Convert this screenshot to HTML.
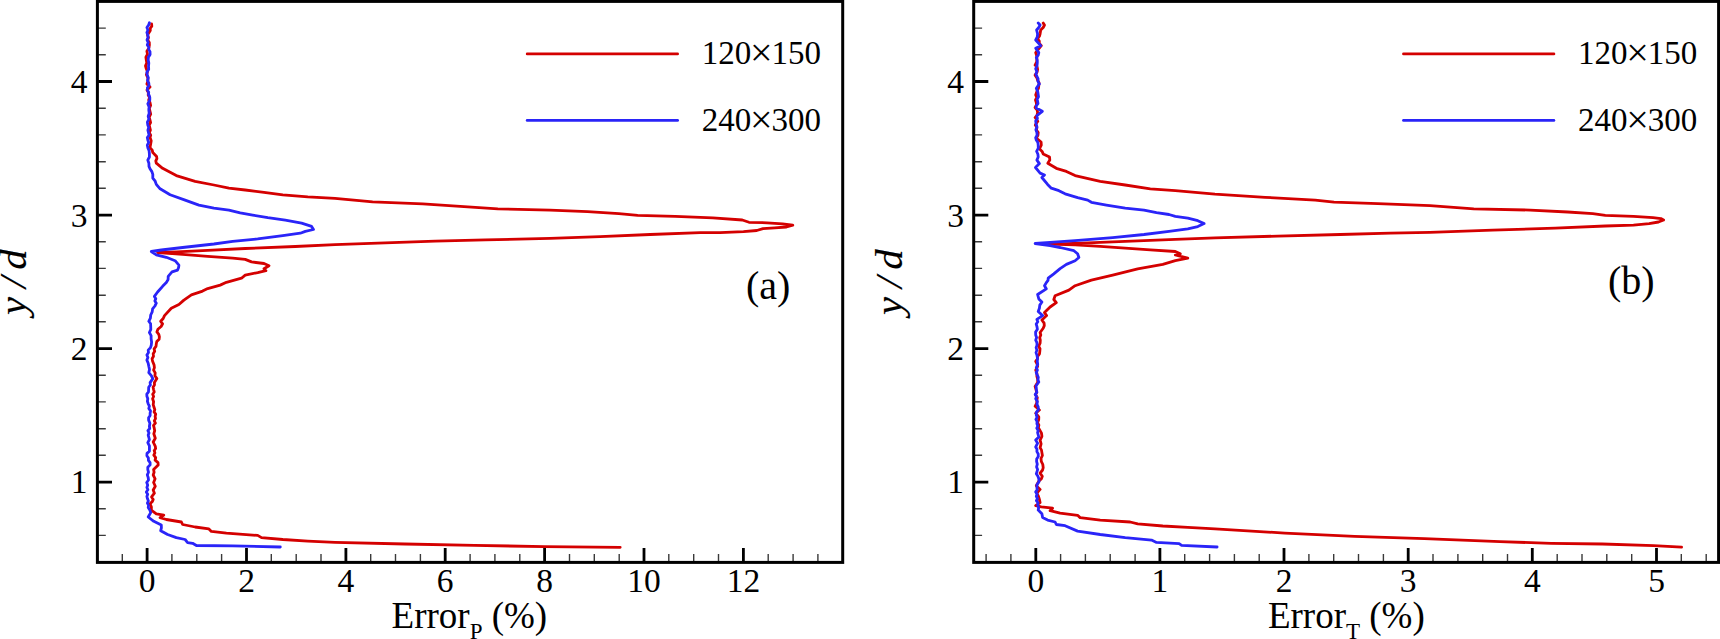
<!DOCTYPE html>
<html><head><meta charset="utf-8"><title>Error profiles</title>
<style>
html,body{margin:0;padding:0;background:#fff;}
body{width:1720px;height:639px;overflow:hidden;}
svg{display:block;}
text{font-family:"Liberation Serif","Times New Roman",serif;fill:#000;}
.tk{font-size:33.5px;}
.ax{font-size:37px;}
.lg{font-size:33px;}
.pl{font-size:40px;}
</style></head><body>
<svg width="1720" height="639" viewBox="0 0 1720 639">
<rect x="0" y="0" width="1720" height="639" fill="#ffffff"/>

<g id="panel-a">
<polyline points="151.6,24.0 151.8,26.2 150.2,28.4 150.3,30.6 147.5,35.0 148.5,37.5 147.7,40.0 149.3,42.5 149.4,45.0 148.8,48.1 146.9,51.3 147.5,54.2 145.9,57.1 146.3,60.0 146.8,62.9 145.5,65.9 146.3,68.8 147.5,71.7 146.4,74.7 147.8,77.6 148.0,80.8 146.9,83.9 150.0,87.0 147.0,90.0 148.4,92.5 148.2,95.0 149.6,97.5 148.7,100.0 150.0,102.5 150.6,105.4 149.3,108.4 150.0,111.3 150.7,114.2 149.2,117.1 150.0,120.0 150.6,122.5 149.2,125.1 149.8,127.6 150.4,130.1 149.3,132.6 150.7,135.1 150.0,137.6 151.2,140.7 150.7,143.8 150.0,147.6 152.2,150.1 152.8,152.6 156.6,156.4 156.9,158.7 155.8,160.9 156.3,163.2 162.6,168.3 176.3,175.6 195.1,181.3 213.9,185.0 228.9,188.2 245.2,190.0 264.0,192.3 282.8,194.8 307.8,196.9 335.0,198.4 372.6,201.9 422.7,203.8 460.2,206.3 497.8,208.8 550.0,210.2 587.6,211.6 618.9,213.6 637.7,215.3 675.2,216.3 712.8,217.8 742.3,220.0 749.0,222.3 767.0,222.8 782.6,223.9 792.8,225.2 786.5,227.0 774.8,227.8 763.0,228.6 756.8,230.5 743.5,231.7 720.0,232.7 700.3,232.6 650.2,234.5 600.1,236.6 550.0,238.3 485.3,239.9 435.2,241.1 385.1,242.9 335.0,244.7 295.3,246.5 245.2,248.5 207.7,250.3 176.3,251.9 157.6,252.5 182.6,254.4 207.7,256.3 232.7,258.2 245.2,259.4 251.5,261.9 264.0,263.5 269.0,265.7 264.0,268.8 265.9,270.7 257.7,272.6 245.2,275.1 241.5,278.2 226.4,282.3 220.2,285.1 207.7,288.6 202.6,291.1 191.4,294.9 183.9,300.1 178.9,304.5 171.3,308.3 164.5,315.6 163.2,318.5 160.7,321.3 162.6,323.8 161.1,326.5 157.9,329.2 156.9,331.9 158.8,334.4 159.4,336.9 159.1,339.2 156.8,341.5 156.3,343.8 156.0,346.3 154.1,348.8 154.7,351.3 153.2,353.8 153.5,356.3 152.1,358.8 152.6,361.3 154.1,365.1 154.4,367.6 153.6,370.1 155.2,372.9 154.9,375.8 156.9,378.6 154.4,382.6 154.5,384.9 153.1,387.3 153.6,389.6 154.2,391.9 152.7,394.2 153.6,396.5 152.6,398.8 153.6,401.7 153.2,404.6 154.1,407.5 154.8,409.7 154.1,411.9 155.7,414.1 155.1,416.3 155.5,418.6 154.3,420.8 155.4,423.1 153.5,425.3 154.1,427.6 154.7,430.7 153.8,433.8 155.3,438.2 153.2,442.0 155.3,446.3 155.6,448.5 154.2,450.7 154.9,452.9 153.8,455.1 155.7,457.6 155.1,460.1 158.0,462.6 158.2,465.1 153.6,469.6 154.1,472.3 153.2,475.0 155.1,478.8 153.6,482.5 155.3,486.3 153.2,490.0 154.4,493.2 151.6,496.9 153.2,499.4 152.3,501.6 150.1,503.8 151.4,507.0 151.3,510.1 156.3,513.8 163.8,515.1 160.1,517.6 166.3,519.5 181.4,522.0 182.6,524.5 195.1,527.0 208.9,528.9 211.4,531.4 226.4,533.2 257.7,535.4 261.5,537.6 282.8,539.5 307.8,541.1 335.0,542.3 404.8,544.0 474.5,545.4 544.3,546.6 620.2,547.3" fill="none" stroke="#d40000" stroke-width="2.8" stroke-linejoin="round" stroke-linecap="round"/>
<polyline points="149.4,22.8 148.6,25.1 146.9,27.5 147.9,30.0 146.9,32.5 147.8,35.0 148.0,37.5 147.0,40.0 148.2,42.5 147.3,45.0 148.8,47.2 148.7,49.4 150.0,51.6 150.1,54.4 148.4,57.2 148.2,60.0 148.8,63.1 148.5,66.3 148.7,69.2 146.9,72.2 147.3,75.1 148.3,77.8 147.5,80.5 148.8,83.2 149.0,85.5 147.4,87.8 147.5,90.1 148.7,92.3 148.5,94.6 149.0,95.0 149.8,97.5 149.8,100.0 147.8,103.8 149.1,106.9 148.8,110.0 149.2,113.2 148.2,116.3 148.9,119.2 147.4,122.1 147.8,125.0 148.7,127.5 147.9,130.1 148.5,132.6 149.1,135.1 147.3,137.5 147.8,140.0 148.7,142.5 147.3,145.1 147.8,147.6 149.1,150.8 149.4,153.9 149.4,157.0 147.8,160.1 148.9,163.2 149.0,166.4 150.0,168.8 151.9,171.6 152.8,174.4 152.8,178.1 155.2,181.2 156.3,184.4 160.1,188.8 170.1,194.8 185.1,200.1 198.9,205.1 213.9,208.2 228.9,210.1 240.2,212.8 252.7,215.1 267.8,217.6 285.3,220.1 301.6,223.2 311.6,226.4 313.5,229.5 305.3,231.4 300.3,233.2 282.8,235.7 257.7,238.9 232.7,241.4 213.9,244.0 182.6,247.5 161.3,250.0 151.3,251.5 156.3,254.8 166.3,257.3 175.1,260.7 178.9,265.1 178.6,267.6 177.6,270.1 172.0,271.9 168.2,276.3 168.1,279.5 166.3,282.6 162.6,286.3 157.6,292.0 154.4,296.4 155.8,298.7 154.9,300.9 156.3,303.2 154.9,306.0 152.6,308.9 152.2,311.9 150.7,315.0 150.4,318.1 148.8,321.3 150.6,323.8 150.7,326.3 150.8,329.4 149.4,332.5 151.1,335.6 151.1,338.8 151.6,342.0 151.3,345.1 150.5,347.6 148.2,350.1 148.5,352.6 146.9,355.1 147.9,357.6 146.9,360.1 148.2,363.2 148.8,366.3 149.5,369.5 148.8,372.6 151.3,375.6 152.8,378.6 150.1,382.6 150.4,384.9 148.7,387.3 148.6,389.6 148.5,391.8 146.8,394.1 146.9,396.3 147.8,398.8 147.4,401.3 148.2,403.8 149.4,406.1 148.8,408.5 150.5,410.9 150.1,413.2 150.1,415.5 148.6,417.8 148.6,420.1 149.9,423.2 149.4,426.3 149.7,428.5 147.9,430.7 149.0,432.9 148.2,435.1 149.4,439.5 147.8,442.6 149.4,445.8 149.4,448.9 149.4,451.2 147.0,453.4 146.9,455.7 148.4,458.0 148.4,460.3 150.1,462.6 150.1,464.9 147.8,467.3 147.8,469.6 148.5,472.2 147.3,474.9 148.2,477.5 148.5,480.0 146.7,482.5 147.7,485.0 146.9,487.5 147.9,489.8 146.3,492.0 147.7,494.3 146.9,496.5 147.5,498.8 148.4,501.0 147.4,503.2 148.6,505.4 148.2,507.6 149.8,510.1 150.7,512.6 148.2,517.0 153.8,521.3 161.3,525.1 161.4,527.9 160.7,530.7 167.6,534.5 176.3,537.6 185.1,539.5 187.6,542.6 192.6,543.3 196.4,545.5 232.7,545.9 280.3,547.0" fill="none" stroke="#2a24f8" stroke-width="2.8" stroke-linejoin="round" stroke-linecap="round"/>
<path d="M97.4 535.4H105.8M97.4 508.8H105.8M97.4 455.3H105.8M97.4 428.7H105.8M97.4 401.9H105.8M97.4 375.3H105.8M97.4 321.8H105.8M97.4 295.2H105.8M97.4 268.4H105.8M97.4 241.8H105.8M97.4 188.3H105.8M97.4 161.7H105.8M97.4 134.9H105.8M97.4 108.3H105.8M97.4 54.8H105.8M97.4 28.1H105.8M122.3 562.4V554.0M171.9 562.4V554.0M196.8 562.4V554.0M221.6 562.4V554.0M271.3 562.4V554.0M296.2 562.4V554.0M321.0 562.4V554.0M370.7 562.4V554.0M395.5 562.4V554.0M420.4 562.4V554.0M470.1 562.4V554.0M494.9 562.4V554.0M519.8 562.4V554.0M569.5 562.4V554.0M594.3 562.4V554.0M619.2 562.4V554.0M668.8 562.4V554.0M693.7 562.4V554.0M718.5 562.4V554.0M768.2 562.4V554.0M793.1 562.4V554.0M817.9 562.4V554.0" stroke="#3a3a3a" stroke-width="1.4" fill="none"/>
<path d="M97.4 482.1H112.0M97.4 348.6H112.0M97.4 215.1H112.0M97.4 81.5H112.0M147.1 562.4V547.9M246.5 562.4V547.9M345.9 562.4V547.9M445.2 562.4V547.9M544.6 562.4V547.9M644.0 562.4V547.9M743.4 562.4V547.9" stroke="#000" stroke-width="2.8" fill="none"/>
<rect x="97.4" y="1.4" width="745.3" height="561.0" fill="none" stroke="#000" stroke-width="3"/>
<text class="tk" x="87.6" y="493.4" text-anchor="end">1</text>
<text class="tk" x="87.6" y="359.9" text-anchor="end">2</text>
<text class="tk" x="87.6" y="226.5" text-anchor="end">3</text>
<text class="tk" x="87.6" y="93.0" text-anchor="end">4</text>
<text class="tk" x="147.1" y="591.5" text-anchor="middle">0</text>
<text class="tk" x="246.5" y="591.5" text-anchor="middle">2</text>
<text class="tk" x="345.9" y="591.5" text-anchor="middle">4</text>
<text class="tk" x="445.2" y="591.5" text-anchor="middle">6</text>
<text class="tk" x="544.6" y="591.5" text-anchor="middle">8</text>
<text class="tk" x="644.0" y="591.5" text-anchor="middle">10</text>
<text class="tk" x="743.4" y="591.5" text-anchor="middle">12</text>
<text class="ax" transform="translate(25.8,315.1) rotate(-90) scale(1.1,1)" font-style="italic" word-spacing="-1px" stroke="#000" stroke-width="0.15">y /<tspan dx="-2"> d</tspan></text>
<text class="ax" x="391.6" y="627.8">Error<tspan font-size="23px" dy="10.9">P</tspan><tspan dy="-10.9"> (%)</tspan></text>
<line x1="527.2" y1="53.9" x2="677.6" y2="53.9" stroke="#d40000" stroke-width="2.8" stroke-linecap="round"/>
<line x1="527.2" y1="120.4" x2="677.6" y2="120.4" stroke="#2a24f8" stroke-width="2.8" stroke-linecap="round"/>
<text class="lg" x="821.0" y="63.8" text-anchor="end">120<tspan font-size="40px" dx="-1.1" dy="2.3">×</tspan><tspan dx="-1.1" dy="-2.3">150</tspan></text>
<text class="lg" x="821.0" y="130.9" text-anchor="end">240<tspan font-size="40px" dx="-1.1" dy="2.3">×</tspan><tspan dx="-1.1" dy="-2.3">300</tspan></text>
<text class="pl" x="745.9" y="299.1">(a)</text>
</g>
<g id="panel-b">
<polyline points="1043.2,23.1 1044.5,25.0 1043.2,27.5 1040.7,30.0 1040.1,33.8 1039.4,36.3 1037.6,38.8 1039.3,41.1 1039.3,43.4 1041.3,45.7 1035.7,52.6 1036.7,55.7 1036.9,58.8 1036.7,61.9 1035.1,65.1 1037.2,67.3 1037.6,69.5 1037.0,72.3 1035.1,75.1 1036.8,77.6 1037.6,80.1 1039.0,82.6 1038.8,85.1 1038.5,88.2 1036.9,91.4 1035.7,95.0 1036.8,97.5 1035.5,100.0 1036.3,102.5 1036.5,105.0 1035.1,107.5 1037.2,110.0 1037.6,112.5 1037.1,115.0 1035.1,117.5 1037.8,121.3 1035.3,125.0 1036.9,127.5 1036.5,130.1 1038.2,132.6 1037.9,135.4 1036.3,138.2 1041.1,142.0 1041.3,145.1 1039.4,148.8 1042.1,151.4 1043.2,153.9 1049.5,157.0 1049.8,160.1 1047.8,163.2 1056.3,168.3 1066.4,171.4 1075.1,175.6 1100.2,181.3 1125.2,185.0 1150.3,188.8 1175.3,190.7 1215.0,194.2 1265.1,197.3 1315.2,200.1 1334.0,202.2 1377.8,203.6 1430.0,205.7 1473.8,208.8 1530.2,210.1 1567.7,212.0 1592.8,213.6 1605.3,215.4 1633.5,216.3 1653.0,217.7 1660.9,218.6 1663.6,220.0 1658.5,222.0 1649.1,223.6 1633.5,225.1 1605.3,226.0 1555.2,228.2 1492.6,230.1 1430.0,232.3 1390.3,233.2 1340.2,234.5 1277.6,236.1 1215.0,237.8 1175.3,239.4 1125.2,241.4 1087.7,242.9 1058.9,243.8 1048.8,244.1 1075.1,244.8 1100.2,246.3 1125.2,248.1 1150.3,249.8 1175.3,251.5 1180.3,253.8 1175.3,255.0 1187.8,258.2 1175.3,260.7 1162.8,264.4 1137.7,268.8 1112.7,275.1 1091.4,280.1 1075.1,285.7 1068.9,290.1 1055.1,295.7 1053.8,299.5 1056.3,302.6 1050.1,307.0 1044.5,312.6 1046.6,315.6 1041.9,320.0 1044.1,323.1 1044.3,325.6 1043.2,328.2 1040.1,332.5 1040.8,335.0 1039.7,337.6 1040.3,340.1 1040.1,343.2 1038.6,346.3 1040.0,348.8 1039.8,351.3 1039.5,353.8 1037.6,356.3 1037.5,358.8 1035.7,361.3 1037.0,363.8 1037.6,366.3 1035.7,370.1 1036.9,373.2 1036.9,376.4 1037.8,379.5 1037.6,382.6 1035.1,386.4 1036.1,390.0 1036.7,392.5 1035.6,395.0 1037.3,397.5 1036.9,400.0 1036.7,403.1 1035.1,406.3 1039.4,410.0 1035.7,413.2 1038.8,416.9 1038.7,419.8 1037.6,422.6 1038.9,425.1 1038.4,427.6 1039.8,430.1 1041.5,433.2 1041.9,436.3 1040.1,440.1 1041.1,443.8 1040.1,447.6 1041.5,450.1 1041.9,452.6 1042.4,455.5 1041.0,458.5 1041.3,461.4 1042.8,464.5 1043.2,467.6 1042.6,470.0 1040.1,473.1 1042.3,476.3 1041.4,478.8 1038.8,481.3 1036.3,485.7 1040.1,489.4 1036.9,493.2 1038.5,496.3 1039.4,499.4 1040.1,502.6 1035.7,505.7 1041.3,506.9 1052.6,508.2 1050.1,510.7 1060.1,513.2 1077.6,515.3 1080.1,517.6 1100.2,520.1 1130.2,522.0 1137.7,523.8 1162.8,526.0 1187.8,527.4 1215.0,528.8 1284.8,533.1 1354.5,536.3 1424.3,538.7 1500.0,541.7 1551.2,543.3 1602.3,544.0 1653.5,545.6 1681.6,547.2" fill="none" stroke="#d40000" stroke-width="2.8" stroke-linejoin="round" stroke-linecap="round"/>
<polyline points="1038.2,23.1 1040.1,25.0 1038.8,27.5 1036.6,30.0 1037.6,33.8 1037.3,36.9 1035.7,40.0 1040.7,45.7 1035.7,48.2 1038.8,52.6 1038.2,55.1 1036.3,57.6 1037.2,60.1 1037.3,62.6 1037.0,65.7 1035.7,68.8 1036.9,71.3 1035.9,73.9 1036.9,76.4 1038.1,78.9 1037.9,81.4 1039.4,83.9 1036.3,88.3 1037.7,91.4 1038.2,94.6 1038.5,96.8 1037.2,99.1 1037.6,101.3 1038.0,103.6 1036.2,105.8 1036.3,108.1 1042.3,111.3 1036.9,115.7 1037.4,118.4 1035.7,121.1 1036.1,123.8 1036.9,126.7 1035.9,129.7 1036.9,132.6 1037.1,135.1 1035.7,137.6 1036.3,140.1 1037.9,142.6 1038.2,145.1 1038.3,148.2 1036.6,151.3 1037.9,154.2 1038.2,157.0 1036.9,160.1 1039.4,163.6 1035.5,167.5 1040.1,173.1 1044.5,175.0 1041.9,177.5 1047.6,184.4 1051.3,188.2 1058.9,190.7 1065.1,193.8 1077.6,197.6 1087.7,200.1 1091.4,202.3 1106.4,205.1 1125.2,208.2 1144.0,210.1 1156.5,212.6 1169.0,214.5 1175.3,216.3 1187.8,218.2 1197.8,220.7 1204.1,223.6 1197.8,226.6 1187.8,228.9 1169.0,231.4 1144.0,234.5 1112.7,237.6 1075.1,240.6 1050.1,242.3 1035.1,243.5 1050.1,245.6 1060.1,247.5 1073.9,250.7 1077.6,253.8 1078.9,257.5 1075.1,260.7 1066.4,264.4 1060.1,268.6 1053.8,273.8 1048.2,278.2 1048.0,280.4 1046.3,282.6 1044.5,285.7 1046.3,288.8 1037.6,294.5 1038.8,298.9 1041.9,302.0 1039.8,305.1 1039.4,308.2 1038.2,311.4 1042.6,315.6 1036.9,319.4 1037.8,321.7 1036.2,324.0 1036.9,326.3 1037.4,329.2 1035.6,332.1 1035.7,335.0 1036.6,337.5 1035.7,340.1 1036.9,342.6 1037.0,345.1 1036.1,347.6 1036.9,350.1 1036.0,352.6 1036.9,355.1 1037.5,358.2 1037.3,361.3 1037.7,364.5 1036.3,367.6 1037.4,370.1 1036.2,372.6 1037.3,375.1 1038.3,377.4 1037.8,379.7 1038.8,382.0 1036.1,385.8 1036.4,390.0 1036.9,392.2 1035.2,394.4 1036.6,396.6 1035.7,398.8 1037.4,401.5 1036.9,404.2 1038.2,406.9 1038.4,409.6 1036.3,412.3 1036.3,415.0 1037.1,417.2 1035.9,419.4 1037.1,421.6 1036.9,423.8 1037.8,426.0 1036.8,428.2 1038.2,430.4 1037.6,432.6 1038.8,437.0 1035.7,440.1 1037.6,443.2 1035.7,447.0 1037.0,449.3 1036.9,451.6 1038.2,453.9 1038.3,456.4 1036.7,458.9 1036.6,461.4 1037.3,464.1 1036.6,466.9 1037.6,469.6 1036.3,473.8 1037.9,476.3 1038.8,478.8 1039.0,481.7 1037.0,484.6 1036.9,487.5 1037.2,489.7 1035.7,491.9 1037.1,494.1 1036.3,496.3 1037.5,498.5 1036.4,500.7 1038.1,502.9 1037.6,505.1 1038.7,507.6 1038.2,510.1 1041.9,513.8 1042.6,517.6 1047.6,520.1 1055.1,522.0 1056.3,524.5 1065.1,525.7 1077.6,531.1 1100.2,534.5 1125.2,537.6 1151.5,540.1 1156.5,542.4 1179.1,543.6 1181.6,545.4 1217.1,547.0" fill="none" stroke="#2a24f8" stroke-width="2.8" stroke-linejoin="round" stroke-linecap="round"/>
<path d="M973.7 535.4H982.1M973.7 508.8H982.1M973.7 455.3H982.1M973.7 428.7H982.1M973.7 401.9H982.1M973.7 375.3H982.1M973.7 321.8H982.1M973.7 295.2H982.1M973.7 268.4H982.1M973.7 241.8H982.1M973.7 188.3H982.1M973.7 161.7H982.1M973.7 134.9H982.1M973.7 108.3H982.1M973.7 54.8H982.1M973.7 28.1H982.1M986.1 562.4V554.0M1010.9 562.4V554.0M1060.6 562.4V554.0M1085.4 562.4V554.0M1110.2 562.4V554.0M1135.1 562.4V554.0M1184.7 562.4V554.0M1209.6 562.4V554.0M1234.4 562.4V554.0M1259.2 562.4V554.0M1308.9 562.4V554.0M1333.7 562.4V554.0M1358.5 562.4V554.0M1383.4 562.4V554.0M1433.0 562.4V554.0M1457.9 562.4V554.0M1482.7 562.4V554.0M1507.5 562.4V554.0M1557.2 562.4V554.0M1582.0 562.4V554.0M1606.8 562.4V554.0M1631.7 562.4V554.0M1681.3 562.4V554.0M1706.2 562.4V554.0" stroke="#3a3a3a" stroke-width="1.4" fill="none"/>
<path d="M973.7 482.1H988.3M973.7 348.6H988.3M973.7 215.1H988.3M973.7 81.5H988.3M1035.8 562.4V547.9M1159.9 562.4V547.9M1284.0 562.4V547.9M1408.2 562.4V547.9M1532.3 562.4V547.9M1656.5 562.4V547.9" stroke="#000" stroke-width="2.8" fill="none"/>
<rect x="973.7" y="1.4" width="744.9" height="561.0" fill="none" stroke="#000" stroke-width="3"/>
<text class="tk" x="963.9" y="493.4" text-anchor="end">1</text>
<text class="tk" x="963.9" y="359.9" text-anchor="end">2</text>
<text class="tk" x="963.9" y="226.5" text-anchor="end">3</text>
<text class="tk" x="963.9" y="93.0" text-anchor="end">4</text>
<text class="tk" x="1035.8" y="591.5" text-anchor="middle">0</text>
<text class="tk" x="1159.9" y="591.5" text-anchor="middle">1</text>
<text class="tk" x="1284.0" y="591.5" text-anchor="middle">2</text>
<text class="tk" x="1408.2" y="591.5" text-anchor="middle">3</text>
<text class="tk" x="1532.3" y="591.5" text-anchor="middle">4</text>
<text class="tk" x="1656.5" y="591.5" text-anchor="middle">5</text>
<text class="ax" transform="translate(902.1,315.1) rotate(-90) scale(1.1,1)" font-style="italic" word-spacing="-1px" stroke="#000" stroke-width="0.15">y /<tspan dx="-2"> d</tspan></text>
<text class="ax" x="1267.9" y="627.8">Error<tspan font-size="23px" dy="10.9">T</tspan><tspan dy="-10.9"> (%)</tspan></text>
<line x1="1403.5" y1="53.9" x2="1553.9" y2="53.9" stroke="#d40000" stroke-width="2.8" stroke-linecap="round"/>
<line x1="1403.5" y1="120.4" x2="1553.9" y2="120.4" stroke="#2a24f8" stroke-width="2.8" stroke-linecap="round"/>
<text class="lg" x="1697.3" y="63.8" text-anchor="end">120<tspan font-size="40px" dx="-1.1" dy="2.3">×</tspan><tspan dx="-1.1" dy="-2.3">150</tspan></text>
<text class="lg" x="1697.3" y="130.9" text-anchor="end">240<tspan font-size="40px" dx="-1.1" dy="2.3">×</tspan><tspan dx="-1.1" dy="-2.3">300</tspan></text>
<text class="pl" x="1608.0" y="293.6">(b)</text>
</g>
</svg></body></html>
